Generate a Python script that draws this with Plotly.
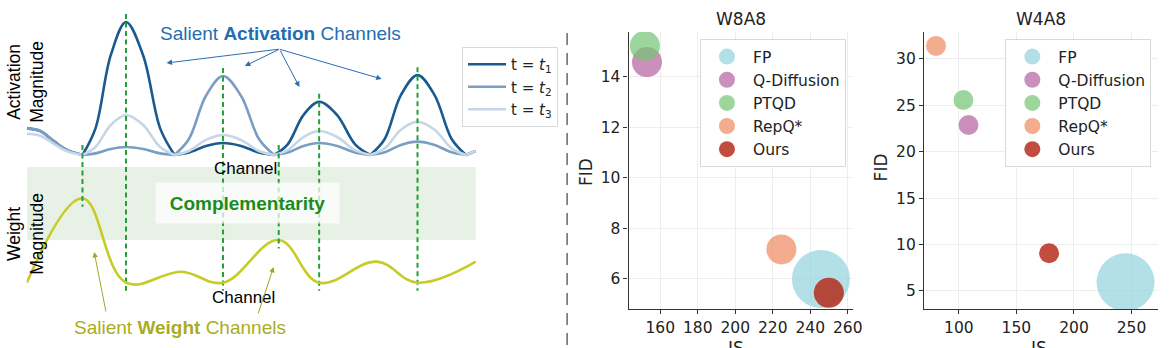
import plotly.graph_objects as go

W, H = 1170, 348

# ---------------- schematic data (channel index 0-100, normalized magnitude) -------------
act_x = [0.0, 3.0, 6.2, 8.8, 12.4,
         15.3, 18.7, 22.1, 25.9, 29.7, 32.9,
         36.1, 39.9, 43.7, 47.7, 51.7, 55.1,
         58.1, 61.6, 65.1, 69.1, 73.1, 76.5,
         79.7, 83.3, 87.0, 90.8, 94.6, 97.8,
         100.0]
t1_vals = [0.20, 0.18, 0.10, 0.04, 0.0,
           0.20, 0.75, 1.00, 0.75, 0.20, 0.0,
           0.018, 0.068, 0.09, 0.068, 0.018, 0.0,
           0.08, 0.30, 0.40, 0.30, 0.08, 0.0,
           0.12, 0.45, 0.60, 0.45, 0.12, 0.0,
           0.03]
t2_vals = [0.20, 0.18, 0.10, 0.04, 0.0,
           0.012, 0.045, 0.06, 0.045, 0.012, 0.0,
           0.12, 0.445, 0.594, 0.445, 0.12, 0.0,
           0.018, 0.068, 0.09, 0.068, 0.018, 0.0,
           0.02, 0.075, 0.10, 0.075, 0.02, 0.0,
           0.03]
t3_vals = [0.16, 0.145, 0.08, 0.03, 0.0,
           0.06, 0.225, 0.30, 0.225, 0.06, 0.0,
           0.03, 0.113, 0.15, 0.113, 0.03, 0.0,
           0.036, 0.135, 0.18, 0.135, 0.036, 0.0,
           0.05, 0.19, 0.25, 0.19, 0.05, 0.0,
           0.03]
act_salient = [22.1, 43.7, 65.1, 87.0]

weight_x = [0.0, 12.4, 22.1, 34.4, 43.7, 56.1, 65.1, 77.9, 87.0, 100.0]
weight_y = [0.0, 1.00, 0.0, 0.13, 0.0, 0.506, 0.0, 0.249, 0.0, 0.249]
weight_salient = [12.4, 56.1]

# ---------------- scatter data --------------------------------------------------------
methods = ["FP", "Q-Diffusion", "PTQD", "RepQ*", "Ours"]
w8a8_is = [245.7, 152.9, 151.8, 224.6, 249.9]
w8a8_fid = [6.00, 14.59, 15.23, 7.17, 5.45]
w4a8_is = [244.8, 108.4, 104.0, 80.2, 178.4]
w4a8_fid = [5.94, 22.88, 25.58, 31.4, 9.07]

w8a8_xticks = [160, 180, 200, 220, 240, 260]
w8a8_yticks = [6, 8, 10, 12, 14]
w4a8_xticks = [100, 150, 200, 250]
w4a8_yticks = [5, 10, 15, 20, 25, 30]

# ---------------- styles ---------------------------------------------------------------
method_colors = ["#93d3dc", "#b5609f", "#72c473", "#f0895f", "#b3200f"]
method_opacity = [0.7, 0.7, 0.7, 0.7, 0.8]
w8a8_sizes = [58, 30, 30, 30, 30]
w4a8_sizes = [58, 20, 20, 20, 20]
t_colors = ["#1b5a8e", "#7a9ec1", "#c6d6e6"]
t_names = ["t = <i>t</i><sub>1</sub>", "t = <i>t</i><sub>2</sub>", "t = <i>t</i><sub>3</sub>"]
weight_color = "#c7cb25"
dash_color = "#22a034"
SANS = "Liberation Sans"
DJ = "DejaVu Sans"


def px(x):
    return x / W


def py(y):
    return 1 - y / H


all_act = [t1_vals, t2_vals, t3_vals]
trough_idx = [i for i in range(len(act_x)) if all(s[i] == 0 for s in all_act)]
cuts = [0] + trough_idx + [len(act_x) - 1]


def build_act(vals):
    xs, ys = [], []
    for a, b in zip(cuts[:-1], cuts[1:]):
        if b <= a:
            continue
        xs += act_x[a:b + 1] + [None]
        ys += vals[a:b + 1] + [None]
    return xs[:-1], ys[:-1]


fig = go.Figure()

# activation curves
for k, vals in enumerate(all_act):
    xs, ys = build_act(vals)
    fig.add_trace(go.Scatter(x=xs, y=ys, mode="lines", name=t_names[k],
                             line=dict(color=t_colors[k], width=2.6, shape="spline", smoothing=1.0),
                             connectgaps=False, xaxis="x", yaxis="y", legend="legend",
                             hoverinfo="skip"))

# weight curve
fig.add_trace(go.Scatter(x=weight_x, y=weight_y, mode="lines", showlegend=False,
                         line=dict(color=weight_color, width=2.6, shape="spline", smoothing=1.1),
                         xaxis="x", yaxis="y2", hoverinfo="skip"))

# dashed salient lines (activation peaks)
for c in act_salient:
    i = act_x.index(c)
    top = max(s[i] for s in all_act) + 0.06
    fig.add_trace(go.Scatter(x=[c, c], y=[top, -1.02], mode="lines", showlegend=False,
                             line=dict(color=dash_color, width=2, dash="5px,3.5px"),
                             xaxis="x", yaxis="y", hoverinfo="skip"))
# dashed salient lines (weight peaks)
for c in weight_salient:
    v = weight_y[weight_x.index(c)]
    fig.add_trace(go.Scatter(x=[c, c], y=[1.63, v - 0.1], mode="lines", showlegend=False,
                             line=dict(color=dash_color, width=2, dash="5px,3.5px"),
                             xaxis="x", yaxis="y2", hoverinfo="skip"))

# scatter panels
panels = [(w8a8_is, w8a8_fid, w8a8_sizes, "x2", "y3", "legend2"),
          (w4a8_is, w4a8_fid, w4a8_sizes, "x3", "y4", "legend3")]
for xs, ys, sizes, xa, ya, lg in panels:
    for i, m in enumerate(methods):
        fig.add_trace(go.Scatter(x=[xs[i]], y=[ys[i]], mode="markers", name=m,
                                 marker=dict(size=sizes[i], color=method_colors[i],
                                             opacity=method_opacity[i], line=dict(width=0)),
                                 xaxis=xa, yaxis=ya, legend=lg))

axis_common = dict(showline=True, linecolor="#333333", linewidth=1.2, ticks="outside",
                   ticklen=4, tickcolor="#333333", showgrid=True, gridcolor="#ededed",
                   gridwidth=1, zeroline=False,
                   tickfont=dict(family=DJ, size=15.5, color="#222222"))

legend_common = dict(xanchor="left", yanchor="top", bgcolor="white", bordercolor="#d9d9d9",
                     borderwidth=1, tracegroupgap=0)

fig.update_layout(
    width=W, height=H, margin=dict(l=0, r=0, t=0, b=0),
    paper_bgcolor="white", plot_bgcolor="white",
    xaxis=dict(domain=[px(27), px(480)], range=[0, 100], visible=False, fixedrange=True),
    yaxis=dict(domain=[0, 1], range=[-1.451, 1.165], visible=False, anchor="x"),
    yaxis2=dict(range=[-0.774, 3.3495], visible=False, overlaying="y", anchor="x"),
    xaxis2=dict(domain=[px(634), px(860)], range=[143.1, 262.6], tickvals=w8a8_xticks,
                anchor="y3", **axis_common),
    yaxis3=dict(domain=[py(309), py(32)], range=[4.81, 15.78], tickvals=w8a8_yticks,
                anchor="x2", **axis_common),
    xaxis3=dict(domain=[px(932), px(1168)], range=[69.8, 273], tickvals=w4a8_xticks,
                anchor="y4", **axis_common),
    yaxis4=dict(domain=[py(309), py(32)], range=[3.06, 32.9], tickvals=w4a8_yticks,
                anchor="x3", **axis_common),
    legend=dict(x=px(466), y=py(47), font=dict(family=DJ, size=15, color="#222222"),
                itemwidth=38, **legend_common),
    legend2=dict(x=px(706), y=py(39), font=dict(family=DJ, size=15.5, color="#222222"),
                 itemsizing="trace", itemwidth=42, **legend_common),
    legend3=dict(x=px(1014), y=py(39), font=dict(family=DJ, size=15.5, color="#222222"),
                 itemsizing="trace", itemwidth=42, **legend_common),
    showlegend=True,
)

# shapes: complementarity band and separator
fig.add_shape(type="rect", xref="x", yref="y2", x0=0, x1=100, y0=0.506, y1=1.371,
              fillcolor="#e7f1e5", line=dict(width=0), layer="below")
fig.add_shape(type="line", xref="paper", yref="paper", x0=px(572), x1=px(572), y0=py(33), y1=py(348),
              line=dict(color="#666666", width=1.5, dash="12px,8px"))

ann = []


def label(x, y, text, size, color, family=SANS, angle=0, **kw):
    d = dict(x=px(x), y=py(y), text=text, textangle=angle, showarrow=False,
             xanchor="center", yanchor="middle", xref="paper", yref="paper",
             font=dict(family=family, size=size, color=color))
    d.update(kw)
    ann.append(d)


label(25, 82, "Activation<br>Magnitude", 17.5, "black", angle=-90)
label(25, 234, "Weight<br>Magnitude", 17.5, "black", angle=-90)
label(248, 168, "Channel", 17, "black")
label(246, 297, "Channel", 17, "black")
label(283, 33, "Salient <b>Activation</b> Channels", 19, "#1f6db3")
label(182, 327, "Salient <b>Weight</b> Channels", 19, "#a9ad1f")
label(250, 203, "<b>Complementarity</b>", 19, "#1a8c1a",
      bgcolor="rgba(255,255,255,0.72)", width=181, height=38)

# blue arrows
for hx, hy in [(168, 63), (247, 66), (302, 87), (385, 79)]:
    ann.append(dict(x=px(hx), y=py(hy), ax=282 - hx, ay=49 - hy, xref="paper", yref="paper",
                    showarrow=True, arrowhead=2, arrowsize=1.1,
                    arrowwidth=1, arrowcolor="#2a6fb2", text=""))
# olive arrows
for (tx, ty), (hx, hy) in [((107, 313), (95, 252)), ((260, 315), (276, 267))]:
    ann.append(dict(x=px(hx), y=py(hy), ax=tx - hx, ay=ty - hy, xref="paper", yref="paper",
                    showarrow=True, arrowhead=2, arrowsize=1.1, arrowwidth=1,
                    arrowcolor="#a3a62a", text=""))

# scatter titles / axis labels
label(747, 19, "W8A8", 17, "#222222", family=DJ)
label(1050, 19, "W4A8", 17, "#222222", family=DJ)
label(591, 172, "FID", 17, "#222222", family=DJ, angle=-90)
label(889, 167, "FID", 17, "#222222", family=DJ, angle=-90)
label(742, 336, "IS", 17, "#222222", family=DJ, yanchor="top")
label(1048, 336, "IS", 17, "#222222", family=DJ, yanchor="top")

fig.update_layout(annotations=ann)

fig.write_html("out.html")
